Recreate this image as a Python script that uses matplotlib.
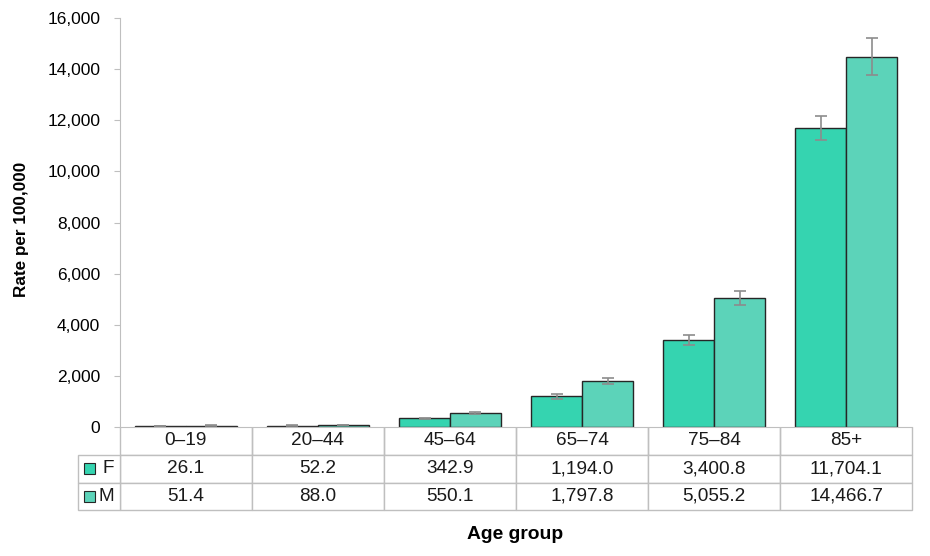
import numpy as np
import matplotlib.pyplot as plt
from matplotlib.patches import Rectangle

plt.rcParams['font.family'] = ['Liberation Sans', 'DejaVu Sans']

# data
age_groups = ["0–19", "20–44", "45–64", "65–74", "75–84", "85+"]
rate_f = [26.1, 52.2, 342.9, 1194.0, 3400.8, 11704.1]
rate_m = [51.4, 88.0, 550.1, 1797.8, 5055.2, 14466.7]
# confidence intervals (estimated from the error bars)
f_low = [20, 45, 320, 1100, 3200, 11230]
f_high = [32, 60, 365, 1290, 3600, 12170]
m_low = [44, 78, 520, 1690, 4790, 13760]
m_high = [59, 98, 580, 1910, 5320, 15210]

col_f = "#35D4B0"
col_m = "#5CD3B9"
grid_col = "#BFBFBF"

fig = plt.figure(figsize=(9.3, 5.56), dpi=100)
ax = fig.add_axes([0.1288, 0.232, 0.8522, 0.7356])

x = np.arange(len(age_groups))
w = 0.385
f_err = [np.array(rate_f) - np.array(f_low), np.array(f_high) - np.array(rate_f)]
m_err = [np.array(rate_m) - np.array(m_low), np.array(m_high) - np.array(rate_m)]
ekw = dict(ecolor="#8C8C8C", capsize=4, elinewidth=1.2, capthick=1.2)
ax.bar(x - w / 2, rate_f, w, color=col_f, edgecolor="#262626", linewidth=1,
       yerr=f_err, error_kw=ekw)
ax.bar(x + w / 2, rate_m, w, color=col_m, edgecolor="#262626", linewidth=1,
       yerr=m_err, error_kw=ekw)

ax.set_xlim(-0.5, len(age_groups) - 0.5)
ax.set_ylim(0, 16000)
ax.set_yticks(np.arange(0, 16001, 2000))
ax.set_yticklabels([f"{v:,}" for v in range(0, 16001, 2000)], fontsize=12.5)
ax.set_xticks([])
for s in ["top", "right"]:
    ax.spines[s].set_visible(False)
ax.spines["left"].set_color(grid_col)
ax.spines["bottom"].set_color(grid_col)
ax.tick_params(axis="y", length=4, color=grid_col, pad=10)
ax.set_ylabel("Rate per 100,000", fontsize=12.3, fontweight="bold")
ax.yaxis.set_label_coords(-0.1146, 0.482)

# data table under the plot
fs = 13.7
cell_text = [[f"{v:,.1f}" for v in rate_f], [f"{v:,.1f}" for v in rate_m]]
tbl_h = 0.2037
lab_w = 0.0532
tbl = ax.table(cellText=cell_text, colLabels=age_groups, cellLoc="center",
               bbox=[0, -tbl_h, 1, tbl_h])
tbl.auto_set_font_size(False)
tbl.set_fontsize(fs)
for (r, c), cell in tbl.get_celld().items():
    cell.set_edgecolor(grid_col)
    cell.set_linewidth(1)
    cell.get_text().set_color("#1A1A1A")
    if r == 0:
        cell.visible_edges = "LRB"

# row labels with the legend keys
lab = ax.table(cellText=[["F"], ["M"]], cellLoc="right",
               bbox=[-lab_w, -tbl_h, lab_w, tbl_h * 2 / 3])
lab.auto_set_font_size(False)
lab.set_fontsize(fs)
for (r, c), cell in lab.get_celld().items():
    cell.set_edgecolor(grid_col)
    cell.set_linewidth(1)
    cell.PAD = 0.14
    cell.get_text().set_color("#1A1A1A")

row_h = tbl_h / 3
for i, col in enumerate([col_f, col_m]):
    yc = -row_h * (1.5 + i)
    ax.add_patch(Rectangle((-0.0456, yc - 0.0135), 0.0139, 0.0269,
                           transform=ax.transAxes, facecolor=col,
                           edgecolor="#262626", linewidth=0.8, clip_on=False))

fig.text(0.5538, 0.031, "Age group", ha="center", fontsize=13.9, fontweight="bold")

fig.savefig("out.png", dpi=100)
